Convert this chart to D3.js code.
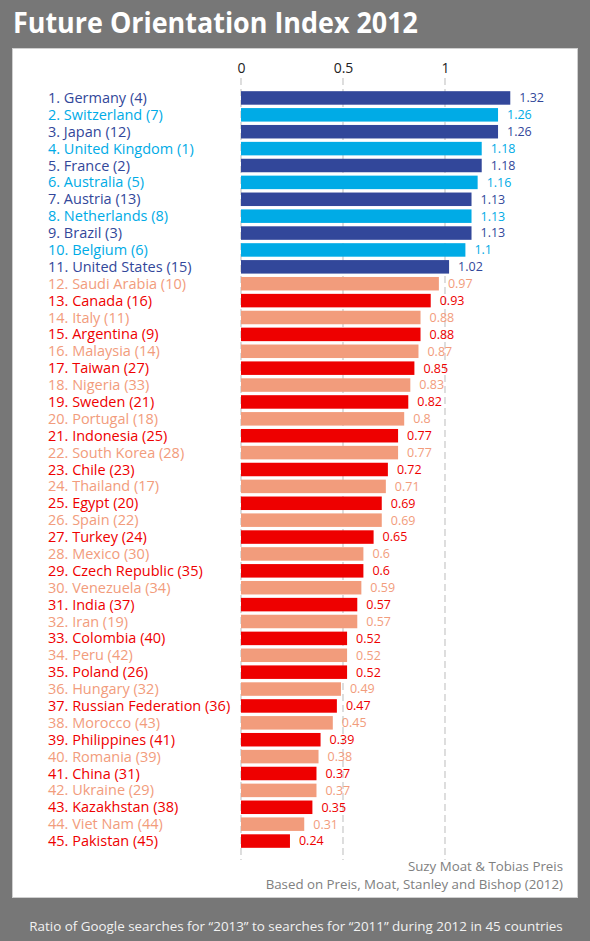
<!DOCTYPE html>
<html>
<head>
<meta charset="utf-8">
<script src="https://cdn.jsdelivr.net/npm/d3@7"></script>
<style>
  body { margin: 0; background: #777777; }
  svg { display: block; font-family: "Open Sans", "Noto Sans", sans-serif; }
</style>
</head>
<body>
<div id="chart"></div>
<script>
// Country labels (rank 2012, rank 2011 in parentheses)
const countries = [
  'Germany (4)', 'Switzerland (7)', 'Japan (12)', 'United Kingdom (1)', 'France (2)',
  'Australia (5)', 'Austria (13)', 'Netherlands (8)', 'Brazil (3)', 'Belgium (6)',
  'United States (15)', 'Saudi Arabia (10)', 'Canada (16)', 'Italy (11)', 'Argentina (9)',
  'Malaysia (14)', 'Taiwan (27)', 'Nigeria (33)', 'Sweden (21)', 'Portugal (18)',
  'Indonesia (25)', 'South Korea (28)', 'Chile (23)', 'Thailand (17)', 'Egypt (20)',
  'Spain (22)', 'Turkey (24)', 'Mexico (30)', 'Czech Republic (35)', 'Venezuela (34)',
  'India (37)', 'Iran (19)', 'Colombia (40)', 'Peru (42)', 'Poland (26)',
  'Hungary (32)', 'Russian Federation (36)', 'Morocco (43)', 'Philippines (41)', 'Romania (39)',
  'China (31)', 'Ukraine (29)', 'Kazakhstan (38)', 'Viet Nam (44)', 'Pakistan (45)'
];

// Future orientation index values
const values = [
  1.32, 1.26, 1.26, 1.18, 1.18, 1.16, 1.13, 1.13, 1.13, 1.1,
  1.02, 0.97, 0.93, 0.88, 0.88, 0.87, 0.85, 0.83, 0.82, 0.8,
  0.77, 0.77, 0.72, 0.71, 0.69, 0.69, 0.65, 0.6, 0.6, 0.59,
  0.57, 0.57, 0.52, 0.52, 0.52, 0.49, 0.47, 0.45, 0.39, 0.38,
  0.37, 0.37, 0.35, 0.31, 0.24
];

const tickValues = [0, 0.5, 1];

const data = countries.map((c, i) => ({ rank: i + 1, name: c, value: values[i] }));

const width = 590, height = 941;

// colour depends on group (>= 1 or not) and alternating rank
const colorOf = d => {
  if (d.value >= 1) return d.rank % 2 ? '#32479a' : '#00abe6';
  return d.rank % 2 ? '#ee0000' : '#f29c7c';
};

const svg = d3.select('#chart')
  .append('svg')
  .attr('width', width)
  .attr('height', height);

// background + white panel
svg.append('rect').attr('width', width).attr('height', height).attr('fill', '#777777');
svg.append('rect')
  .attr('x', 12.5).attr('y', 48.5)
  .attr('width', 565).attr('height', 849)
  .attr('fill', '#ffffff')
  .attr('stroke', '#cfcfcf');

// title
svg.append('text')
  .attr('x', 13).attr('y', 33)
  .attr('fill', '#ffffff')
  .attr('font-size', 28)
  .attr('font-weight', 'bold')
  .attr('textLength', 405)
  .attr('lengthAdjust', 'spacingAndGlyphs')
  .text('Future Orientation Index 2012');

// scales
const x = d3.scaleLinear().domain([0, 1]).range([241, 445]);
const y = d3.scaleBand()
  .domain(data.map(d => d.name))
  .range([89.5, 849.5])
  .paddingInner(0.2)
  .paddingOuter(0.1);

// dashed grid lines
svg.append('g')
  .selectAll('line')
  .data(tickValues)
  .join('line')
  .attr('x1', d => x(d)).attr('x2', d => x(d))
  .attr('y1', 78).attr('y2', 860)
  .attr('stroke', '#cccccc')
  .attr('stroke-width', 1.3)
  .attr('stroke-dasharray', '7,4');

// top axis, labels only
const xAxis = svg.append('g')
  .attr('transform', 'translate(0,73)')
  .call(d3.axisTop(x).tickValues(tickValues).tickSize(0).tickPadding(0).tickFormat(d3.format('')));
xAxis.select('.domain').remove();
xAxis.selectAll('text')
  .attr('font-family', '"Open Sans", sans-serif')
  .attr('font-size', 14)
  .attr('fill', '#222222');

// bars
svg.append('g')
  .selectAll('rect')
  .data(data)
  .join('rect')
  .attr('x', x(0))
  .attr('y', d => y(d.name))
  .attr('width', d => x(d.value) - x(0))
  .attr('height', y.bandwidth())
  .attr('fill', d => colorOf(d));

// value labels
svg.append('g')
  .selectAll('text')
  .data(data)
  .join('text')
  .attr('x', d => x(d.value) + 9)
  .attr('y', d => y(d.name) + y.bandwidth() / 2)
  .attr('dy', '0.35em')
  .attr('font-size', 12.5)
  .attr('fill', d => colorOf(d))
  .text(d => d.value);

// country labels
svg.append('g')
  .selectAll('text')
  .data(data)
  .join('text')
  .attr('x', 48)
  .attr('y', d => y(d.name) + y.bandwidth() / 2)
  .attr('dy', '0.35em')
  .attr('font-size', 14.5)
  .attr('fill', d => colorOf(d))
  .text(d => `${d.rank}. ${d.name}`);

// credits
svg.append('text')
  .attr('x', 563).attr('y', 871)
  .attr('text-anchor', 'end')
  .attr('font-size', 13.3)
  .attr('fill', '#808080')
  .text('Suzy Moat & Tobias Preis');
svg.append('text')
  .attr('x', 563).attr('y', 889)
  .attr('text-anchor', 'end')
  .attr('font-size', 13.3)
  .attr('fill', '#808080')
  .text('Based on Preis, Moat, Stanley and Bishop (2012)');

// caption
svg.append('text')
  .attr('x', 296).attr('y', 931)
  .attr('text-anchor', 'middle')
  .attr('font-size', 13.4)
  .attr('fill', '#f2f2f2')
  .text('Ratio of Google searches for \u201c2013\u201d to searches for \u201c2011\u201d during 2012 in 45 countries');
</script>
</body>
</html>
